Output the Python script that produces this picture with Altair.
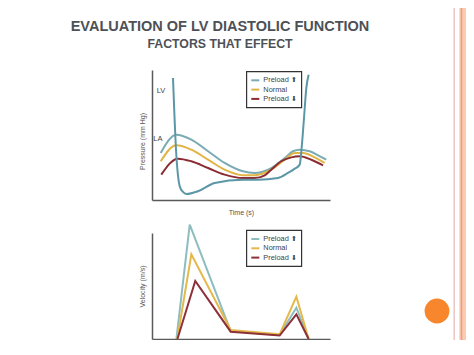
import altair as alt
import pandas as pd

# ---------------- data ----------------
series_names = ["Preload ⬆", "Normal", "Preload ⬇"]
top_colors = ["#7aabb3", "#e2b445", "#8b2c33"]
bottom_colors = ["#8dbdbf", "#e5b84a", "#8d3038"]

# Top panel: left atrial pressure (time 0-100, pressure 0-100, arbitrary units)
la_up_t = [4.9, 13.7, 22.1, 31.5, 40.8, 51.1, 57.7, 67.0, 74.6, 79.2, 83.0, 88.6, 93.3, 97.9]
la_up_p = [36.2, 50.2, 46.4, 37.5, 28.5, 22.1, 20.8, 24.6, 32.3, 37.5, 38.7, 37.5, 34.4, 31.0]
la_norm_t = [4.9, 13.7, 22.1, 31.5, 40.8, 51.1, 57.7, 67.0, 74.6, 80.2, 84.8, 91.4, 97.0]
la_norm_p = [29.8, 42.1, 38.7, 31.0, 23.3, 19.0, 19.0, 23.3, 31.0, 36.2, 36.2, 32.8, 28.5]
la_down_t = [5.2, 14.6, 22.1, 31.5, 40.8, 51.1, 57.7, 63.3, 67.0, 72.6, 78.3, 83.0, 89.5, 96.1]
la_down_p = [19.5, 31.8, 29.8, 24.6, 19.5, 16.9, 16.9, 19.0, 23.3, 29.8, 32.8, 33.6, 31.0, 26.7]

# Top panel: left ventricular pressure
lv_t = [11.8, 13.5, 15.6, 17.4, 19.3, 25.8, 35.2, 51.1, 59.6, 70.8, 76.4, 80.2, 83.0, 83.9, 85.4, 86.7, 88.0]
lv_p = [93.8, 38.5, 10.5, 6.2, 4.6, 6.7, 13.1, 15.6, 15.6, 16.9, 20.8, 24.1, 27.2, 37.5, 63.1, 86.2, 96.4]

# Curve labels in the top panel
curve_labels = ["LV", "LA"]
curve_label_t = [2.6, 0.7]
curve_label_p = [84.1, 46.7]

# Bottom panel: mitral inflow velocity (time 0-100, velocity 0-100)
vel_up_t = [13.7, 21.2, 44.2, 71.7, 81.1, 88.0]
vel_up_v = [0, 108, 7.5, 3.8, 29.5, 0]
vel_norm_t = [14.2, 22.1, 44.2, 71.7, 81.1, 88.0]
vel_norm_v = [0, 79.9, 8.5, 4.4, 39.9, 0]
vel_down_t = [14.3, 24.3, 44.2, 71.7, 81.1, 88.0]
vel_down_v = [0, 54.7, 6.9, 3.3, 23.3, 0]

# ---------------- tables ----------------
def long_table(groups, ycol):
    rows = []
    for name, ts, vs in groups:
        for order, (t, v) in enumerate(zip(ts, vs)):
            rows.append({"series": name, "t": t, ycol: v, "order": order})
    return pd.DataFrame(rows)

la_df = long_table([(series_names[0], la_up_t, la_up_p),
                    (series_names[1], la_norm_t, la_norm_p),
                    (series_names[2], la_down_t, la_down_p)], "p")
lv_df = pd.DataFrame({"t": lv_t, "p": lv_p})
lab_df = pd.DataFrame({"label": curve_labels, "t": curve_label_t, "p": curve_label_p})
vel_df = long_table([(series_names[0], vel_up_t, vel_up_v),
                     (series_names[1], vel_norm_t, vel_norm_v),
                     (series_names[2], vel_down_t, vel_down_v)], "v")
one = pd.DataFrame({"k": [0]})

# ---------------- layout ----------------
W, H = 458, 282
x_top = alt.Scale(domain=[0, 100], range=[144, 322], nice=False, zero=False)
y_top = alt.Scale(domain=[0, 100], range=[142, 12], nice=False, zero=False)
x_bot = alt.Scale(domain=[0, 100], range=[144, 322], nice=False, zero=False)
y_bot = alt.Scale(domain=[0, 100], range=[281, 175], nice=False, zero=False)

ax = dict(ticks=False, labels=False, grid=False, domainColor="#5a5a5a", domainWidth=1.5,
          titleFontSize=7, titleColor="#555555", titleFont="Liberation Sans",
          titleFontWeight="normal")

def legend(x, y):
    return alt.Legend(orient="none", legendX=x, legendY=y, title=None,
                      symbolType="stroke", symbolSize=64, symbolStrokeWidth=2,
                      labelFontSize=7.4, labelFont="Liberation Sans", labelColor="#444444",
                      strokeColor="#333333", fillColor="white", padding=4,
                      rowPadding=0.3, labelOffset=3)

# slide decorations
band = alt.Chart(one).mark_rect(color="#fccab3").encode(
    x=alt.value(451.3), x2=alt.value(458), y=alt.value(-50), y2=alt.value(H))
band_line = alt.Chart(one).mark_rule(color="#eba083", strokeWidth=1.5).encode(
    x=alt.value(453.5), y=alt.value(-50), y2=alt.value(H))
thin_line = alt.Chart(one).mark_rule(color="#ecc4c4", strokeWidth=1.5).encode(
    x=alt.value(446.2), y=alt.value(-50), y2=alt.value(H))
dot = alt.Chart(one).mark_circle(color="#f7862d", opacity=1).encode(
    x=alt.value(429), y=alt.value(253), size=alt.value(616))

la_lines = alt.Chart(la_df).mark_line(strokeWidth=2, interpolate="monotone").encode(
    x=alt.X("t:Q", scale=x_top,
            axis=alt.Axis(orient="bottom", offset=-(H - 142), title="Time (s)",
                          titlePadding=8, **ax)),
    y=alt.Y("p:Q", scale=y_top,
            axis=alt.Axis(orient="left", offset=-144, title="Pressure (mm Hg)",
                          titlePadding=7, titleY=83, **ax)),
    color=alt.Color("series:N", scale=alt.Scale(domain=series_names, range=top_colors),
                    legend=legend(238.3, 13.3)),
    order="order:O",
)

lv_line = alt.Chart(lv_df).mark_line(strokeWidth=2, color="#5b97a6", interpolate="monotone").encode(
    x=alt.X("t:Q", scale=x_top, axis=None),
    y=alt.Y("p:Q", scale=y_top, axis=None),
)

labels = alt.Chart(lab_df).mark_text(align="left", baseline="middle", fontSize=7.5,
                                     font="Liberation Sans", color="#444444").encode(
    x=alt.X("t:Q", scale=x_top, axis=None),
    y=alt.Y("p:Q", scale=y_top, axis=None),
    text="label:N",
)

vel_lines = alt.Chart(vel_df).mark_line(strokeWidth=2).encode(
    x=alt.X("t:Q", scale=x_bot,
            axis=alt.Axis(orient="bottom", offset=-(H - 281), title=None, **ax)),
    y=alt.Y("v:Q", scale=y_bot,
            axis=alt.Axis(orient="left", offset=-144, title="Velocity (m/s)",
                          titlePadding=7, **ax)),
    color=alt.Color("series:N", scale=alt.Scale(domain=series_names, range=bottom_colors),
                    legend=legend(238.3, 172)),
    order="order:O",
)

chart = alt.layer(
    band, band_line, thin_line, dot, la_lines, lv_line, labels, vel_lines
).resolve_scale(
    x="independent", y="independent", color="independent"
).properties(
    width=W, height=H,
    autosize=alt.AutoSizeParams(type="none"),
    padding={"left": 0, "top": 50, "right": 0, "bottom": 0},
    title=alt.TitleParams(
        text="EVALUATION OF LV DIASTOLIC FUNCTION",
        subtitle="FACTORS THAT EFFECT",
        font="Liberation Sans", fontSize=14.5, fontWeight="bold", color="#4d5157",
        subtitleFont="Liberation Sans", subtitleFontSize=12.3, subtitleFontWeight="bold",
        subtitleColor="#4d5157", subtitlePadding=3,
        anchor="middle", frame="group", dx=-17, offset=-44,
    ),
).configure_view(stroke=None).configure_legend(strokeWidth=1.2)

chart.save("out.html", embed_options={"renderer": "svg", "actions": False})
